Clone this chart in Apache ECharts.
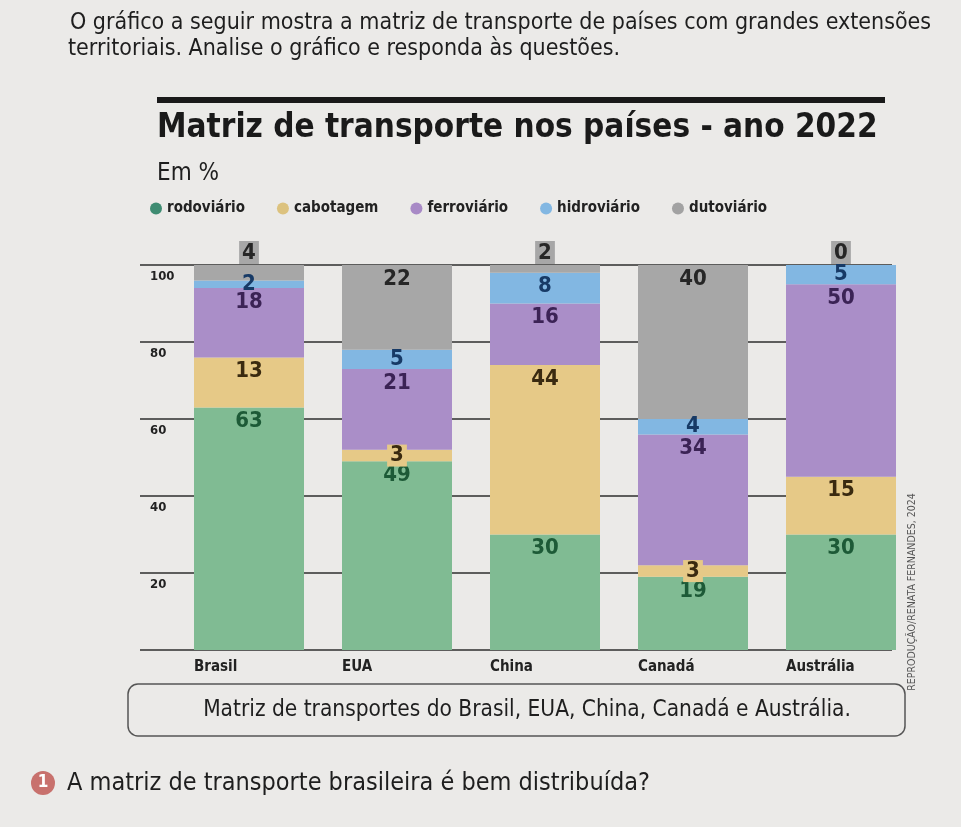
<!DOCTYPE html>
<html><head><meta charset="utf-8">
<script src="https://cdn.jsdelivr.net/npm/echarts@6/dist/echarts.min.js"></script>
<style>html,body{margin:0;padding:0;background:#ebeae8}#c{width:961px;height:827px}</style>
</head><body><div id="c"></div>
<script>
// ---- data ----
const countries = ['Brasil', 'EUA', 'China', 'Canadá', 'Austrália'];
const modes = ['rodoviário', 'cabotagem', 'ferroviário', 'hidroviário', 'dutoviário'];
const rodoviario = [63, 49, 30, 19, 30];
const cabotagem = [13, 3, 44, 3, 15];
const ferroviario = [18, 21, 16, 34, 50];
const hidroviario = [2, 5, 8, 4, 5];
const dutoviario = [4, 22, 2, 40, 0];
const yTicks = [0, 20, 40, 60, 80, 100];

// ---- styles ----
const seriesValues = [rodoviario, cabotagem, ferroviario, hidroviario, dutoviario];
const colors = ['#80bb93', '#e6c987', '#aa8ec8', '#82b7e2', '#a7a7a7'];
const legendColors = ['#3f8c72', '#dcc27e', '#a88ac6', '#82b7e2', '#a2a2a2'];
const labelColors = ['#1d5a37', '#3a2a10', '#3b2355', '#173a66', '#262626'];
const FC = "'DejaVu Sans Condensed', 'DejaVu Sans', sans-serif";

function labelFor(si, v) {
  if (v >= 8) return { position: 'insideTop', distance: 3 };
  if (si === 4) return { position: 'top', distance: 1, backgroundColor: colors[4], padding: [1, 3, 0, 3] };
  if (si === 1) return { position: 'inside', backgroundColor: colors[1], padding: [0, 3] };
  return { position: 'inside' };
}

const chart = echarts.init(document.getElementById('c'), null, { renderer: 'canvas' });

const series = modes.map((m, si) => ({
  name: m,
  type: 'bar',
  stack: 'total',
  xAxisIndex: 1,
  yAxisIndex: 1,
  barWidth: 110,
  itemStyle: { color: colors[si] },
  label: {
    show: true,
    fontFamily: FC,
    fontWeight: 'bold',
    fontSize: 22,
    color: labelColors[si]
  },
  data: seriesValues[si].map(v => ({ value: v, label: labelFor(si, v) }))
}));

const option = {
  backgroundColor: '#ebeae8',
  animation: false,
  legend: {
    left: 145,
    top: 196,
    icon: 'circle',
    itemWidth: 12,
    itemHeight: 12,
    itemGap: 32,
    data: modes.map((m, i) => ({ name: m, itemStyle: { color: legendColors[i] } })),
    textStyle: { fontFamily: FC, fontWeight: 'bold', fontSize: 15, color: '#222' }
  },
  grid: [
    { left: 140, right: 69, top: 265, bottom: 177 },
    { left: 175, right: 46, top: 265, bottom: 177 }
  ],
  xAxis: [
    { gridIndex: 0, type: 'value', min: 0, max: 1, show: true, axisLine: { show: false }, axisTick: { show: false }, axisLabel: { show: false }, splitLine: { show: false } },
    {
      gridIndex: 1, type: 'category', data: countries,
      axisLine: { show: false }, axisTick: { show: false },
      axisLabel: {
        margin: 10,
        formatter: v => '{a|' + v + '}',
        rich: { a: { width: 110, align: 'left', fontFamily: FC, fontWeight: 'bold', fontSize: 15, color: '#222' } }
      }
    }
  ],
  yAxis: [
    {
      gridIndex: 0, type: 'value', min: 0, max: 100, interval: 20,
      axisLine: { show: false }, axisTick: { show: false },
      splitLine: { show: true, lineStyle: { color: '#2e2e2e', width: 1.5 } },
      axisLabel: {
        inside: true, margin: 10, verticalAlign: 'top', showMinLabel: false,
        fontFamily: FC, fontWeight: 'bold', fontSize: 13, color: '#222', padding: [5, 0, 0, 0],
        formatter: v => (yTicks.indexOf(v) >= 0 ? String(v) : '')
      }
    },
    { gridIndex: 1, type: 'value', min: 0, max: 100, show: false, splitLine: { show: false } }
  ],
  series: series,
  graphic: [
    { type: 'text', left: 70, top: 12, style: { text: 'O gráfico a seguir mostra a matriz de transporte de países com grandes extensões', font: "23px " + FC, fill: '#1e1e1e' } },
    { type: 'text', left: 68, top: 38, style: { text: 'territoriais. Analise o gráfico e responda às questões.', font: "23px " + FC, fill: '#1e1e1e' } },
    { type: 'rect', shape: { x: 157, y: 97, width: 728, height: 6 }, style: { fill: '#1a1a1a' } },
    { type: 'text', left: 157, top: 112, style: { text: 'Matriz de transporte nos países - ano 2022', font: "bold 33px " + FC, fill: '#1a1a1a' } },
    { type: 'text', left: 157, top: 162, style: { text: 'Em %', font: "24px " + FC, fill: '#1e1e1e' } },
    { type: 'rect', shape: { x: 128, y: 684, width: 777, height: 52, r: 10 }, style: { fill: 'none', stroke: '#555', lineWidth: 1.5 } },
    { type: 'text', x: 527, y: 710, style: { text: 'Matriz de transportes do Brasil, EUA, China, Canadá e Austrália.', font: "22.5px " + FC, fill: '#1e1e1e', align: 'center', verticalAlign: 'middle' } },
    { type: 'circle', shape: { cx: 43, cy: 783, r: 12 }, style: { fill: '#c8716d' } },
    { type: 'text', x: 43, y: 783, style: { text: '1', font: "bold 17px " + FC, fill: '#fff', align: 'center', verticalAlign: 'middle' } },
    { type: 'text', x: 67, y: 783, style: { text: 'A matriz de transporte brasileira é bem distribuída?', font: "25px " + FC, fill: '#1e1e1e', align: 'left', verticalAlign: 'middle' } },
    { type: 'text', x: 912, y: 592, rotation: Math.PI / 2, style: { text: 'REPRODUÇÃO/RENATA FERNANDES, 2024', font: "10.5px " + FC, fill: '#555', align: 'center', verticalAlign: 'middle' } }
  ]
};
chart.setOption(option);
</script>
</body></html>
